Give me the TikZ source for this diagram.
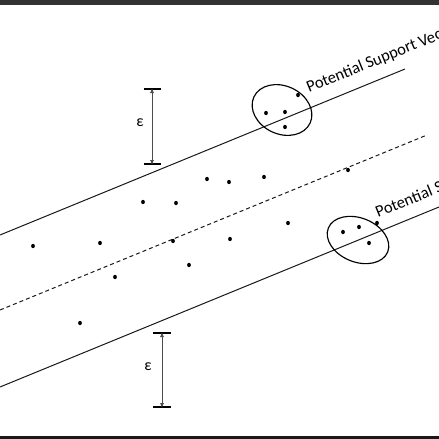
\documentclass[tikz,border=0pt]{standalone}
\usepackage{fontspec}
\setmainfont{Carlito}
\usetikzlibrary{arrows.meta,shapes.geometric}
\begin{document}
\begin{tikzpicture}[x=1pt,y=-1pt,
  pt/.style={fill=black,draw=none,ellipse,inner sep=0pt,minimum width=3.8pt,minimum height=4.4pt},
  sv/.style={draw=black,line width=1.15pt},
  margin/.style={draw=black!90,line width=1pt},
  epsarrow/.style={draw=black!70,line width=0.8pt,{Latex[length=5pt,width=4pt]}-{Latex[length=5pt,width=4pt]}},
  bar/.style={draw=black,line width=1.8pt},
  lbl/.style={font=\fontsize{16.5}{17}\selectfont,inner sep=0pt,anchor=base west,rotate=22.2},
  eps/.style={font=\fontsize{16}{16}\selectfont,inner sep=0pt}]
\useasboundingbox (0,0) rectangle (439,439);
\fill[white] (0,0) rectangle (439,439);
% frame bands
\fill[black!80] (0,0) rectangle (439,4.5);
\fill[black!90] (0,436) rectangle (439,439);
% lines
\coordinate (u1) at (0,235);
\coordinate (u2) at (405,69);
\coordinate (m1) at (0,310);
\coordinate (m2) at (427,135);
\coordinate (l1) at (0,387);
\coordinate (l2) at (439,207);
\draw[margin] (u1) -- (u2);
\draw[margin,dash pattern=on 4pt off 3pt] (m1) -- (m2);
\draw[margin] (l1) -- (l2);
% ellipses
\draw[sv] (282,110) ellipse[x radius=31,y radius=24,rotate=-25];
\draw[sv] (358,240) ellipse[x radius=32,y radius=22,rotate=-22];
% support vector points
\foreach \x/\y [count=\i] in {298/95,266/113,285/112,285/127,343/232,359/227,377/223,369/243}
  \node[pt] (s\i) at (\x,\y) {};
% other points
\foreach \x/\y [count=\i] in {33/246,100/243,143/202,176/203,207/179,229/182,264/177,348/170,173/241,230/239,288/223,189/265,115/277,80/323}
  \node[pt] (p\i) at (\x,\y) {};
% labels
\node[lbl] (t1) at (309,93) {Potential Support Vectors};
\node[lbl] (t2) at (378,218) {Potential Support Vectors};
% epsilon markers
\coordinate (a1) at (152,89);
\coordinate (a2) at (152,164);
\draw[bar] (143.5,89) -- (161,89);
\draw[bar] (143.5,164) -- (161,164);
\draw[epsarrow] ([yshift=1pt]a1) -- ([yshift=-1pt]a2);
\node[eps] (e1) at (140,123) {ε};
\coordinate (b1) at (162,333);
\coordinate (b2) at (162,407);
\draw[bar] (153,333) -- (171,333);
\draw[bar] (153,407) -- (171,407);
\draw[epsarrow] ([yshift=1pt]b1) -- ([yshift=-1pt]b2);
\node[eps] (e2) at (148,367) {ε};
\end{tikzpicture}
\end{document}
